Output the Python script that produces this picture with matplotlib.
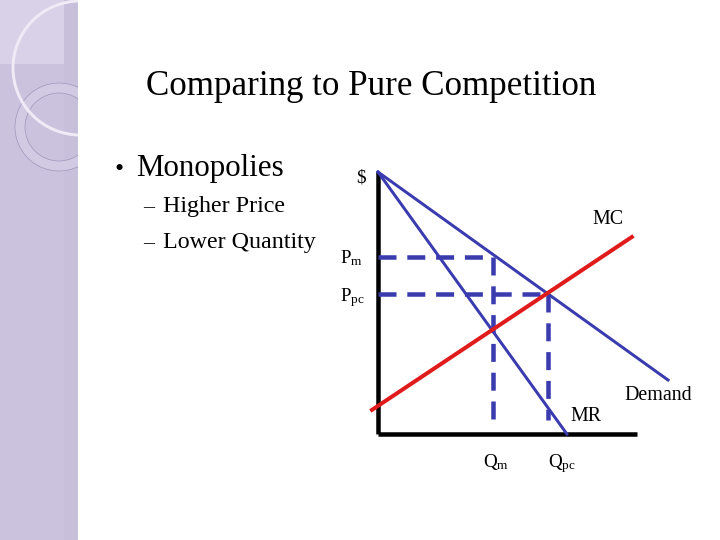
import matplotlib
matplotlib.use("Agg")
import matplotlib.pyplot as plt
from matplotlib.patches import Rectangle, Circle

# ===== Data =====
TITLE = "Comparing to Pure Competition"
BULLET = "Monopolies"
SUB_BULLETS = ["Higher Price", "Lower Quantity"]

demand_q = [0.0, 11.07]
demand_p = [10.0, 2.06]
mr_q = [0.0, 7.21]
mr_p = [10.0, 0.0]
mc_q = [-0.23, 9.69]
mc_p = [0.92, 7.52]

Q_M, P_M = 4.39, 6.76
Q_PC, P_PC = 6.49, 5.34
DASH_BOTTOM = 0.53
AXIS_TOP = 10.0
AXIS_RIGHT = 9.89

BLUE = "#3b3bb0"
RED = "#e01b1b"

plt.rcParams["font.family"] = ["Liberation Serif", "DejaVu Serif"]
plt.rcParams["mathtext.fontset"] = "custom"
plt.rcParams["mathtext.rm"] = "Liberation Serif"
plt.rcParams["mathtext.it"] = "Liberation Serif:italic"

fig = plt.figure(figsize=(10, 7.5), dpi=72)

# ===== Purple side strip with circles =====
side = fig.add_axes([0, 0, 78 / 720, 1])
side.set_xlim(0, 78)
side.set_ylim(540, 0)
side.axis("off")
side.add_patch(Rectangle((0, 0), 78, 540, color="#cbc2dd", zorder=0))
side.add_patch(Rectangle((64, 0), 14, 540, color="#c8bfdb", zorder=0))
side.add_patch(Rectangle((0, 0), 63, 63, color="#d9d1e8", zorder=1))
side.add_patch(Circle((59, 127), 39, fill=False, lw=10, ec="#d2c9e3", zorder=2))
for rad in (34, 44):
    side.add_patch(Circle((59, 127), rad, fill=False, lw=0.6, ec="#9a8fb5", zorder=3))
side.add_patch(Circle((80, 68), 67, fill=False, lw=3, ec="#efeaf6", zorder=4))

# ===== Slide text (pixel coordinates) =====
bg = fig.add_axes([0, 0, 1, 1])
bg.set_xlim(0, 720)
bg.set_ylim(540, 0)
bg.axis("off")
bg.patch.set_alpha(0)

bg.text(371, 95, TITLE, fontsize=35, ha="center", va="baseline")
bg.text(115, 176, "•", fontsize=26, ha="left", va="baseline")
bg.text(136, 176, BULLET, fontsize=31, ha="left", va="baseline")
for i, s in enumerate(SUB_BULLETS):
    y = 212 + 36 * i
    bg.text(143, y, "–", fontsize=22, ha="left", va="baseline")
    bg.text(163, y, s, fontsize=24, ha="left", va="baseline")

lab = dict(fontsize=19, ha="left", va="baseline")
bg.text(356, 182, "$", **lab)
bg.text(340, 263, r"P$_{\mathrm{m}}$", **lab)
bg.text(340, 301, r"P$_{\mathrm{pc}}$", **lab)
bg.text(483, 467, r"Q$_{\mathrm{m}}$", **lab)
bg.text(548, 467, r"Q$_{\mathrm{pc}}$", **lab)
cur = dict(fontsize=20, ha="left", va="baseline")
bg.text(592, 224, "MC", **cur)
bg.text(624, 400, "Demand", **cur)
bg.text(570, 421, "MR", **cur)

# ===== Chart =====
u = 26.2  # pixels per data unit
ox, oy = 378, 434
l, r, t, b = 340, 700, 150, 480
ax = fig.add_axes([l / 720, (540 - b) / 540, (r - l) / 720, (b - t) / 540])
ax.set_xlim((l - ox) / u, (r - ox) / u)
ax.set_ylim((oy - b) / u, (oy - t) / u)
ax.axis("off")
ax.patch.set_alpha(0)

ax.plot([0, 0], [0, AXIS_TOP], color="black", lw=4.5, solid_capstyle="butt")
ax.plot([0, AXIS_RIGHT], [0, 0], color="black", lw=4.5, solid_capstyle="butt")

dash = dict(color=BLUE, lw=4.5, linestyle=(0, (4, 2.4)))
ax.plot([0, Q_M], [P_M, P_M], **dash)
ax.plot([Q_M, Q_M], [P_M, DASH_BOTTOM], **dash)
ax.plot([0, Q_PC], [P_PC, P_PC], **dash)
ax.plot([Q_PC, Q_PC], [P_PC, DASH_BOTTOM], **dash)

ax.plot(demand_q, demand_p, color=BLUE, lw=3)
ax.plot(mr_q, mr_p, color=BLUE, lw=3)
ax.plot(mc_q, mc_p, color=RED, lw=4)

fig.savefig("out.png", dpi=72)
